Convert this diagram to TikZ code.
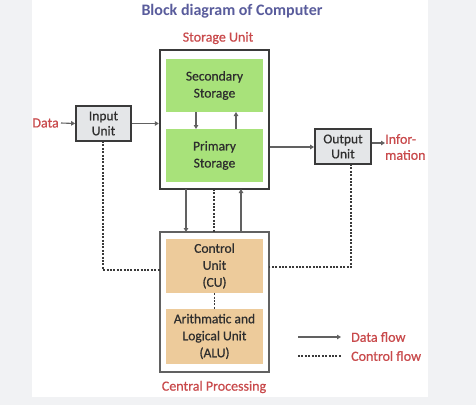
\documentclass[tikz,border=0pt]{standalone}
\usepackage{fontspec}
\setmainfont{Carlito}[FakeBold=0]
\newfontfamily\semib{Carlito}[FakeBold=0.6]
\usetikzlibrary{arrows.meta}
\definecolor{bgc}{HTML}{F1F2F4}
\definecolor{titlec}{HTML}{595C9C}
\definecolor{redc}{HTML}{C94A4C}
\definecolor{greenc}{HTML}{A8E27A}
\definecolor{tanc}{HTML}{EDCB9B}
\definecolor{grayfill}{HTML}{E4E6E8}
\definecolor{darkc}{HTML}{3A3A3A}
\definecolor{txtc}{HTML}{2E2E2E}
\tikzset{
  x=1pt, y=-1pt,
  unitbox/.style={draw=darkc, line width=1.8pt, fill=grayfill, text=txtc, font=\semib\fontsize{13.5}{15}\selectfont, align=center, inner sep=0pt},
  greenbox/.style={fill=greenc, text=txtc, font=\semib\fontsize{13.5}{17}\selectfont, align=center, inner sep=0pt},
  tanbox/.style={fill=tanc, text=txtc, font=\semib\fontsize{13.5}{17}\selectfont, align=center, inner sep=0pt},
  redlbl/.style={text=redc, font=\semib\fontsize{14}{16}\selectfont, inner sep=0pt},
  dflow/.style={draw=darkc!80, line width=1.1pt, -{Triangle[length=4pt,width=4.5pt]}},
  cflow/.style={draw=darkc, line width=1.8pt, dash pattern=on 2pt off 1.4pt},
}
\begin{document}
\begin{tikzpicture}
\useasboundingbox (0,0) rectangle (476,405);
\fill[bgc] (0,0) rectangle (476,405);
\fill[white] (32,0) rectangle (428,397);
% title
\node[text=titlec, font=\bfseries\fontsize{16}{18}\selectfont, inner sep=0pt] (title) at (232,11) {Block diagram of Computer};
\node[redlbl] (stlbl) at (218,38) {Storage Unit};
% storage unit
\node[draw=darkc, line width=2.4pt, minimum width=109pt, minimum height=139pt, inner sep=0pt] (stor) at (214.5,119.5) {};
\node[greenbox, minimum width=97pt, minimum height=53pt] (sec) at (214.5,85.5) {Secondary\\Storage};
\node[greenbox, minimum width=97pt, minimum height=53pt] (pri) at (214.5,155.5) {Primary\\Storage};
% input / output
\node[unitbox, minimum width=55pt, minimum height=35pt] (inp) at (103.5,123.5) {Input\\Unit};
\node[unitbox, minimum width=56pt, minimum height=35pt] (out) at (343,146.5) {Output\\Unit};
\node[redlbl, anchor=east] (data) at (59,123) {Data};
\node[redlbl, align=left, anchor=west] (info) at (385,147) {Infor-\\mation};
% CPU
\node[draw=darkc!80, line width=1.8pt, minimum width=109pt, minimum height=140pt, inner sep=0pt] (cpu) at (214.5,302) {};
\node[tanbox, minimum width=97pt, minimum height=54pt] (cu) at (214.5,266) {Control\\Unit\\(CU)};
\node[tanbox, minimum width=97pt, minimum height=55pt] (alu) at (214.5,336.5) {Arithmatic and\\Logical Unit\\(ALU)};
\node[redlbl] (cplbl) at (214,387) {Central Processing};
% coordinates
\coordinate (sdA) at (196,112);
\coordinate (pdA) at (196,129);
\coordinate (puA) at (236,129);
\coordinate (suA) at (236,112);
\coordinate (cd1) at (186,189);
\coordinate (cd2) at (186,232);
\coordinate (cc1) at (214,189);
\coordinate (cc2) at (214,232);
\coordinate (cu1) at (241,232);
\coordinate (cu2) at (241,189);
\coordinate (inb) at (103,141);
\coordinate (inc) at (103,270);
\coordinate (cpl) at (160,270);
\coordinate (oub) at (351,164);
\coordinate (ouc) at (351,267);
\coordinate (cpr) at (269,267);
% data flows
\draw[dflow] (data.east) ++(2,0) -- (inp.west);
\draw[dflow] (inp.east) -- (stor.west |- inp.east);
\draw[dflow] (stor.east |- 0,147) -- (out.west |- 0,147);
\draw[dflow] (out.east |- 0,143) -- (info.west |- 0,143);
\draw[dflow] (sdA) -- (pdA);
\draw[dflow] (puA) -- (suA);
\draw[dflow] (cd1) -- (cd2);
\draw[dflow] (cu1) -- (cu2);
% control flows
\draw[cflow] (cc1) -- (cc2);
\draw[cflow] (cu.south) -- (alu.north);
\draw[cflow] (inb) -- (inc) -- (cpl);
\draw[cflow] (oub) -- (ouc) -- (cpr);
% legend
\coordinate (l1a) at (298,337);
\coordinate (l1b) at (341,337);
\coordinate (l2a) at (298,356);
\coordinate (l2b) at (341,356);
\draw[dflow] (l1a) -- (l1b);
\draw[cflow] (l2a) -- (l2b);
\node[redlbl, anchor=west] (lg1) at (351,337) {Data flow};
\node[redlbl, anchor=west] (lg2) at (351,356) {Control flow};
\end{tikzpicture}
\end{document}
